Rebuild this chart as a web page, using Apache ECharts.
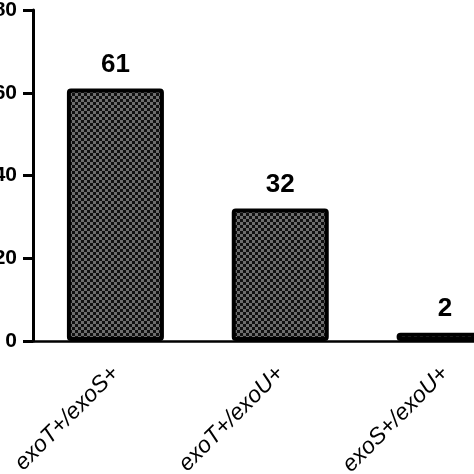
<!DOCTYPE html>
<html><head><meta charset="utf-8">
<script src="https://cdn.jsdelivr.net/npm/echarts@6/dist/echarts.min.js"></script>
<style>html,body{margin:0;padding:0;background:#fff;overflow:hidden}#c{width:474px;height:474px}</style>
</head><body><div id="c"></div>
<script>
var categories = ['exoT+/exoS+', 'exoT+/exoU+', 'exoS+/exoU+'];
var values = [61, 32, 2];
var yTicks = [0, 20, 40, 60, 80];

var tile = document.createElement('canvas');
tile.width = 6; tile.height = 6;
var g = tile.getContext('2d');
g.fillStyle = '#111'; g.fillRect(0, 0, 6, 6);
g.fillStyle = '#6e6e6e'; g.fillRect(0, 0, 3, 3); g.fillRect(3, 3, 3, 3);

var chart = echarts.init(document.getElementById('c'));
chart.setOption({
  animation: false,
  grid: { left: 33, top: 10, bottom: 133, right: -53.5, containLabel: false, outerBoundsMode: 'none' },
  xAxis: {
    type: 'category', data: categories,
    axisLine: { lineStyle: { color: '#000', width: 2.5 } },
    axisTick: { alignWithLabel: true, length: 9, lineStyle: { color: '#000', width: 2.5 } },
    axisLabel: { rotate: 45, margin: 29, color: '#000', fontFamily: 'Liberation Sans, Arial', fontStyle: 'italic', fontSize: 23 }
  },
  yAxis: {
    type: 'value', min: yTicks[0], max: yTicks[yTicks.length - 1], interval: 20,
    splitLine: { show: false },
    axisLine: { show: true, lineStyle: { color: '#000', width: 3 } },
    axisTick: { show: true, length: 10, lineStyle: { color: '#000', width: 3 } },
    axisLabel: { margin: 16, color: '#000', fontFamily: 'Liberation Sans, Arial', fontWeight: 'bold', fontSize: 21 }
  },
  series: [{
    type: 'bar', data: values, barWidth: 97,
    itemStyle: { color: { image: tile, repeat: 'repeat' }, borderColor: '#000', borderWidth: 4, borderRadius: 2 },
    label: { show: true, position: 'top', distance: 11, color: '#000', fontFamily: 'Liberation Sans, Arial', fontWeight: 'bold', fontSize: 26 }
  }]
});
</script></body></html>
